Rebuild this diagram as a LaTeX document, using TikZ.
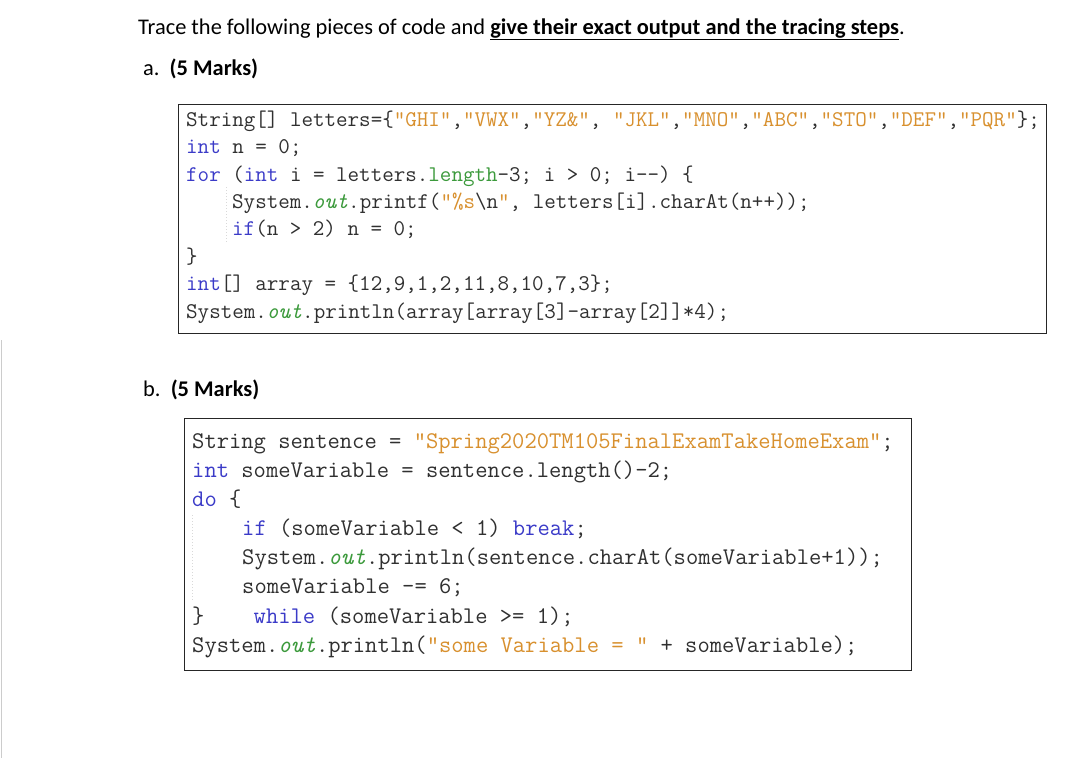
\documentclass[tikz,border=0pt]{standalone}
\usepackage{fontspec}
\setmainfont{Carlito}
\newfontfamily\code{Latin Modern Mono}
\definecolor{kw}{HTML}{3B3BC8}
\definecolor{st}{HTML}{D8902E}
\definecolor{gr}{HTML}{3C9A3C}
\definecolor{tx}{HTML}{303030}
\newcommand\kw[1]{\textcolor{kw}{#1}}
\newcommand\st[1]{\textcolor{st}{#1}}
\newcommand\gr[1]{\textcolor{gr}{\itshape #1}}
\newcommand\grn[1]{\textcolor{gr}{#1}}
\tikzset{
 ca/.style={anchor=base west,inner sep=0,text=tx,font=\code\fontsize{22.4}{23}\selectfont},
 cb/.style={anchor=base west,inner sep=0,text=tx,font=\code\fontsize{23.9}{24}\selectfont},
 hd/.style={anchor=base west,inner sep=0,font=\fontsize{22.4}{24}\selectfont},
 box/.style={draw=black!85,line width=1pt},
 guide/.style={draw=black!15,dotted,line width=1pt}
}
\begin{document}
\begin{tikzpicture}[x=1pt,y=-1pt]
\useasboundingbox[fill=white] (0,0) rectangle (1088,758);
\draw[black!20] (1.5,340) -- (1.5,758);
\node[hd] (t) at (138,34) {Trace the following pieces of code and \textbf{\underline{give their exact output and the tracing steps}}.};
\node[hd] (a) at (143,75) {a.\ \ \textbf{(5 Marks)}};
\draw[box] (178,104) rectangle (1046,333);
\draw[guide] (226,187) -- (226,243);
\node[ca] (a1) at (186,126) {String[] letters=\{\st{"GHI"},\st{"VWX"},\st{"YZ\&"}, \st{"JKL"},\st{"MNO"},\st{"ABC"},\st{"STO"},\st{"DEF"},\st{"PQR"}\};};
\node[ca] (a2) at (186,153) {\kw{int} n = 0;};
\node[ca] (a3) at (186,181) {\kw{for} (\kw{int} i = letters.\grn{length}-3; i > 0; i--) \{};
\node[ca] (a4) at (232,208) {System.\gr{out}.printf(\st{"\%s\textcolor{tx}{\textbackslash n}"}, letters[i].charAt(n++));};
\node[ca] (a5) at (232,235) {\kw{if}(n > 2) n = 0;};
\node[ca] (a6) at (186,263) {\}};
\node[ca] (a7) at (186,290) {\kw{int}[] array = \{12,9,1,2,11,8,10,7,3\};};
\node[ca] (a8) at (186,318) {System.\gr{out}.println(array[array[3]-array[2]]*4);};
\node[hd] (b) at (143,396) {b.\ \ \textbf{(5 Marks)}};
\draw[box] (184,418) rectangle (911,670);
\draw[guide] (192,515) -- (192,600);
\node[cb] (b1) at (192,448) {String sentence = \st{"Spring2020TM105FinalExamTakeHomeExam"};};
\node[cb] (b2) at (192,477) {\kw{int} someVariable = sentence.length()-2;};
\node[cb] (b3) at (192,506) {\kw{do} \{};
\node[cb] (b4) at (242,535) {\kw{if} (someVariable < 1) \kw{break};};
\node[cb] (b5) at (242,564) {System.\gr{out}.println(sentence.charAt(someVariable+1));};
\node[cb] (b6) at (242,593) {someVariable -= 6;};
\node[cb] (b7) at (192,623) {\}\ \ \ \ \kw{while} (someVariable >= 1);};
\node[cb] (b8) at (192,652) {System.\gr{out}.println(\st{"some Variable = "} + someVariable);};
\end{tikzpicture}
\end{document}
